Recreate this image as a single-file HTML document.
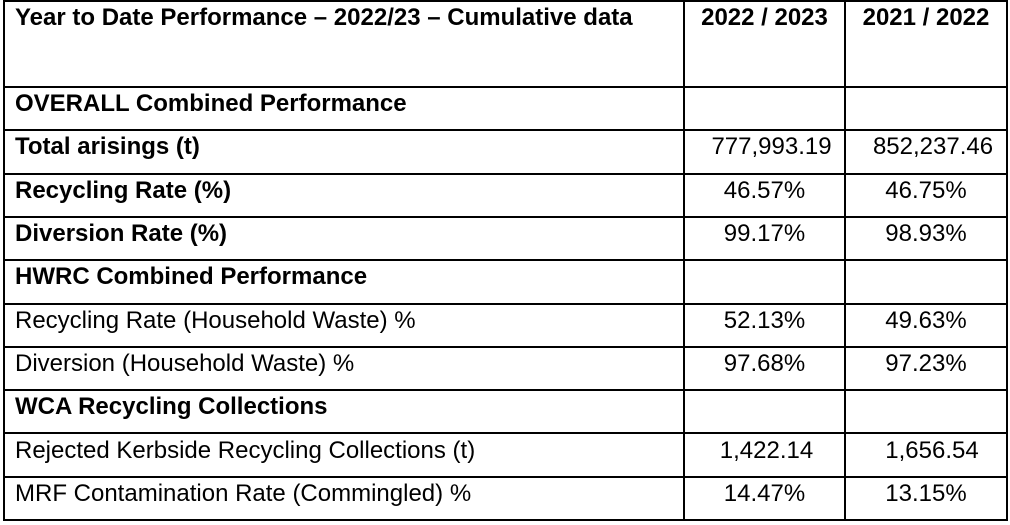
<!DOCTYPE html>
<html><head><meta charset="utf-8"><style>
body{margin:0;width:1010px;height:525px;background:#fff;position:relative;overflow:hidden;font-family:"Liberation Sans",Arial,sans-serif;color:#000}
.h{position:absolute;background:#000;height:2px}
.v{position:absolute;background:#000;width:2px}
.t{position:absolute;font-size:24px;line-height:28px;white-space:nowrap}
.b{font-weight:bold;font-size:24px}
.c{text-align:center}
</style></head><body>
<div class="h" style="left:3px;width:1005px;top:0"></div>
<div class="h" style="left:3px;width:1005px;top:86px"></div>
<div class="h" style="left:3px;width:1005px;top:129px"></div>
<div class="h" style="left:3px;width:1005px;top:173px"></div>
<div class="h" style="left:3px;width:1005px;top:216px"></div>
<div class="h" style="left:3px;width:1005px;top:259px"></div>
<div class="h" style="left:3px;width:1005px;top:303px"></div>
<div class="h" style="left:3px;width:1005px;top:346px"></div>
<div class="h" style="left:3px;width:1005px;top:389px"></div>
<div class="h" style="left:3px;width:1005px;top:432px"></div>
<div class="h" style="left:3px;width:1005px;top:476px"></div>
<div class="h" style="left:3px;width:1005px;top:519px"></div>
<div class="v" style="left:3px;top:0;height:521px"></div>
<div class="v" style="left:683px;top:0;height:521px"></div>
<div class="v" style="left:844px;top:0;height:521px"></div>
<div class="v" style="left:1006px;top:0;height:521px"></div>

<div class="t b" style="left:15px;top:4px">Year to Date Performance – 2022/23 – Cumulative data</div>
<div class="t b c" style="left:685px;width:159px;top:4px">2022 / 2023</div>
<div class="t b c" style="left:846px;width:160px;top:4px">2021 / 2022</div>

<div class="t b" style="left:15px;top:90px">OVERALL Combined Performance</div>

<div class="t b" style="left:15px;top:133px">Total arisings (t)</div>
<div class="t c" style="left:692px;width:159px;top:133px">777,993.19</div>
<div class="t c" style="left:853px;width:160px;top:133px">852,237.46</div>

<div class="t b" style="left:15px;top:177px">Recycling Rate (%)</div>
<div class="t c" style="left:685px;width:159px;top:177px">46.57%</div>
<div class="t c" style="left:846px;width:160px;top:177px">46.75%</div>

<div class="t b" style="left:15px;top:220px">Diversion Rate (%)</div>
<div class="t c" style="left:685px;width:159px;top:220px">99.17%</div>
<div class="t c" style="left:846px;width:160px;top:220px">98.93%</div>

<div class="t b" style="left:15px;top:263px">HWRC Combined Performance</div>

<div class="t" style="left:15px;top:307px">Recycling Rate (Household Waste) %</div>
<div class="t c" style="left:685px;width:159px;top:307px">52.13%</div>
<div class="t c" style="left:846px;width:160px;top:307px">49.63%</div>

<div class="t" style="left:15px;top:350px">Diversion (Household Waste) %</div>
<div class="t c" style="left:685px;width:159px;top:350px">97.68%</div>
<div class="t c" style="left:846px;width:160px;top:350px">97.23%</div>

<div class="t b" style="left:15px;top:393px">WCA Recycling Collections</div>

<div class="t" style="left:15px;top:437px">Rejected Kerbside Recycling Collections (t)</div>
<div class="t c" style="left:687px;width:159px;top:437px">1,422.14</div>
<div class="t c" style="left:852px;width:160px;top:437px">1,656.54</div>

<div class="t" style="left:15px;top:480px">MRF Contamination Rate (Commingled) %</div>
<div class="t c" style="left:685px;width:159px;top:480px">14.47%</div>
<div class="t c" style="left:846px;width:160px;top:480px">13.15%</div>
</body></html>
